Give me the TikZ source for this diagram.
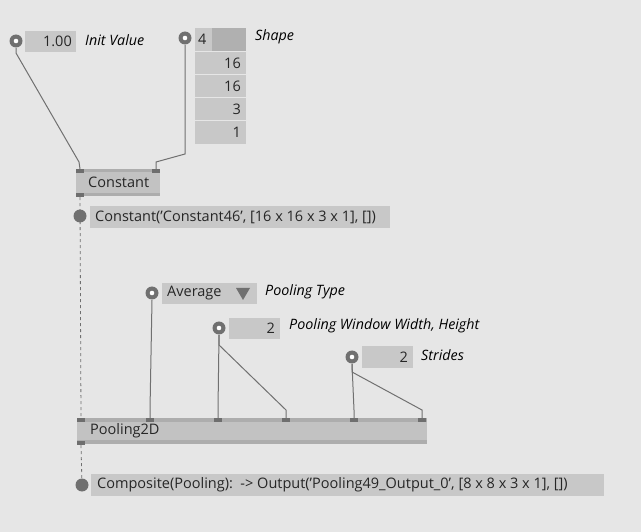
\documentclass[tikz,border=0pt]{standalone}
\usepackage{fontspec}
\setmainfont{Open Sans}[Ligatures=ResetAll]
\begin{document}
\begin{tikzpicture}[x=1pt,y=-1pt,
  lbl/.style={anchor=west,inner sep=0pt,font=\fontsize{14.3}{16}\selectfont\itshape},
  txt/.style={inner sep=0pt,font=\fontsize{14.5}{16}\selectfont,text=black!85},
  wire/.style={draw=wiregray,line width=1pt},
  port/.style={fill=portgray,draw=none,minimum width=8pt,minimum height=4pt,inner sep=0pt}]
\definecolor{bg}{HTML}{E6E6E6}
\definecolor{boxgray}{HTML}{C8C8C8}
\definecolor{wiregray}{HTML}{707070}
\definecolor{portgray}{HTML}{6E6E6E}
\definecolor{nodegray}{HTML}{C2C2C2}
\definecolor{stripgray}{HTML}{ADADAD}
\definecolor{darkcell}{HTML}{B0B0B0}
\fill[bg] (0,0) rectangle (641,532);
\useasboundingbox (0,0) rectangle (641,532);
\tikzset{pin/.pic={\fill[wiregray] (0,0) circle (6.5); \fill[white] (0,0) circle (2.3);}}
% Init value
\pic at (16,41) {pin}; \coordinate (iv) at (16,48);
\fill[boxgray] (25,31) rectangle (76,52);
\node[txt,anchor=east] (ivt) at (72,41.5) {1.00};
\node[lbl] (ivl) at (85,40) {Init Value};
% Shape
\pic at (185,38) {pin}; \coordinate (sh) at (185,45);
\fill[darkcell] (195,28) rectangle (246,51);
\fill[boxgray] (195,28) rectangle (212,51);
\node[txt,anchor=west] (s0) at (198,39.5) {4};
\foreach \t/\a/\b [count=\i] in {16/52/74,16/75/97,3/98/120,1/121/144}{
  \fill[boxgray] (195,\a) rectangle (246,\b);
  \node[txt,anchor=east] (s\i) at (241,{(\a+\b)/2}) {\t};}
\node[lbl] (shl) at (255,37) {Shape};
% Constant node
\fill[nodegray] (76,169) rectangle (160,196);
\fill[stripgray] (76,169) rectangle (160,172);
\fill[stripgray] (76,193) rectangle (160,196);
\node[port] (c1) at (80,171) {};
\node[port] (c2) at (156,171) {};
\node[port] (co) at (80,195) {};
\node[txt,anchor=west] (ct) at (88,182) {Constant};
\draw[wire] (iv) -- (16,53) -- (79,162) -- (c1.north);
\draw[wire] (sh) -- (185,154) -- (156,162) -- (c2.north);
% output 1
\draw[wiregray,dashed,line width=0.8pt] (co.south) -- (81,418);
\fill[wiregray] (80,216) circle (6.5); \coordinate (o1) at (80,216);
\fill[boxgray] (90,206) rectangle (390,228);
\node[txt,anchor=west] (o1t) at (95,217) {Constant(\char"27 Constant46\char"27, [16 x 16 x 3 x 1], [])};
% Pooling node
\fill[nodegray] (77,418) rectangle (427,444);
\fill[stripgray] (77,418) rectangle (427,422);
\fill[stripgray] (77,440) rectangle (427,444);
\foreach \x [count=\i] in {81,150,218,286,354,422}{\node[port] (p\i) at (\x,420) {};}
\node[port] (po) at (81,443) {};
\node[txt,anchor=west] (pt) at (90,431) {Pooling2D};
% Average
\pic at (152,293) {pin}; \coordinate (av) at (152,300);
\fill[boxgray] (162,283) rectangle (257,304);
\node[txt,anchor=west] (avt) at (167,293.5) {Average};
\fill[wiregray] (236,288) -- (250,288) -- (243,300) -- cycle;
\node[lbl] (avl) at (265,292) {Pooling Type};
% window
\pic at (219,328) {pin}; \coordinate (wn) at (219,335);
\fill[boxgray] (229,318) rectangle (280,339);
\node[txt,anchor=east] (wnt) at (275,328.5) {2};
\node[lbl] (wnl) at (289,326) {Pooling Window Width, Height};
% strides
\pic at (352,357) {pin}; \coordinate (st) at (352,364);
\fill[boxgray] (362,346) rectangle (413,368);
\node[txt,anchor=east] (stt) at (408,357.5) {2};
\node[lbl] (stl) at (421,355) {Strides};
\draw[wire] (av) -- (150,410) -- (p2.north);
\draw[wire] (wn) -- (218,410) -- (p3.north);
\draw[wire] (wn) -- (219,345) -- (286,410) -- (p4.north);
\draw[wire] (st) -- (354,410) -- (p5.north);
\draw[wire] (st) -- (352,372) -- (422,410) -- (p6.north);
% output 2
\draw[wiregray,dashed,line width=0.8pt] (po.south) -- (82,485);
\fill[wiregray] (82,485) circle (6.5);
\fill[boxgray] (91,474) rectangle (604,496);
\node[txt,anchor=west] (o2t) at (97,485) {Composite(Pooling):\ \ -> Output(\char"27 Pooling49\_Output\_0\char"27, [8 x 8 x 3 x 1], [])};
\end{tikzpicture}
\end{document}
